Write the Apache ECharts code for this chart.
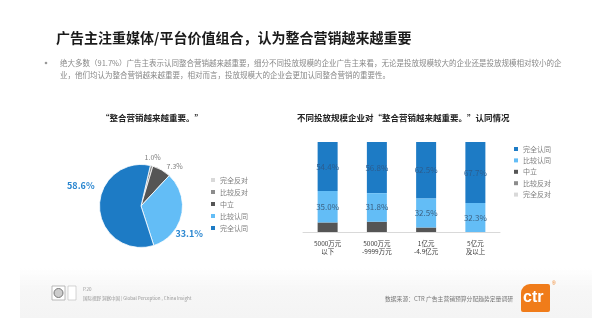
<!DOCTYPE html>
<html><head><meta charset="utf-8">
<script src="https://cdn.jsdelivr.net/npm/echarts@6/dist/echarts.min.js"></script>
<style>html,body{margin:0;padding:0;background:#fff;}#c{width:608px;height:328px;}</style>
</head><body><div id="c"></div>
<script>
const levels = ['完全反对','比较反对','中立','比较认同','完全认同'];
const levelColors = ['#d9d9d9','#8c8c8c','#555555','#63bdf6','#1d7bc5'];
const pieValues = [0, 1.0, 7.3, 33.1, 58.6];
const categories = ['5000万元\n以下','5000万元\n-9999万元','1亿元\n-4.9亿元','5亿元\n及以上'];
const barValues = {
  '完全反对': [0, 0, 0, 0],
  '比较反对': [0, 0, 0, 0],
  '中立': [10.6, 11.4, 5.0, 0],
  '比较认同': [35.0, 31.8, 32.5, 32.3],
  '完全认同': [54.4, 56.8, 62.5, 67.7]
};
const mainTitle = '广告主注重媒体/平台价值组合，认为整合营销越来越重要';
const bullet1 = '绝大多数（91.7%）广告主表示认同整合营销越来越重要，细分不同投放规模的企业广告主来看，无论是投放规模较大的企业还是投放规模相对较小的企';
const bullet2 = '业，他们均认为整合营销越来越重要，相对而言，投放规模大的企业会更加认同整合营销的重要性。';
const pieTitle = '“整合营销越来越重要。”';
const barTitle = '不同投放规模企业对“整合营销越来越重要。”认同情况';
const sourceText = '数据来源：CTR 广告主营销预算分配趋势定量调研';

const F = '"Noto Sans CJK SC", "Noto Sans", sans-serif';
const chart = echarts.init(document.getElementById('c'));

const pieLabelShift = {1: [-14, -5], 2: [-8, -7], 3: [-11, 18], 4: [5, -22]};

const barSeries = levels.map((name, i) => ({
  type: 'bar', name: name, stack: 's',
  barWidth: 20,
  itemStyle: {color: levelColors[i]},
  data: barValues[name],
  label: {
    show: name === '完全认同' || name === '比较认同',
    position: 'inside',
    formatter: p => p.value.toFixed(1) + '%',
    fontSize: 8, fontFamily: F,
    color: name === '完全认同' ? '#2c5d8f' : '#3d6283'
  }
}));

chart.setOption({
  animation: false,
  textStyle: {fontFamily: F},
  color: levelColors,
  legend: [
    {data: levels, left: 206, top: 171, orient: 'vertical', icon: 'rect', itemWidth: 4, itemHeight: 4,
     itemGap: 4, textStyle: {fontSize: 7, color: '#7f7f7f', lineHeight: 8}, selectedMode: false},
    {data: levels.slice().reverse(), left: 509, top: 140, orient: 'vertical', icon: 'rect', itemWidth: 4, itemHeight: 4,
     itemGap: 3.4, textStyle: {fontSize: 7, color: '#7f7f7f', lineHeight: 8}, selectedMode: false}
  ],
  grid: {left: 303, right: 108, top: 142, bottom: 96},
  xAxis: {type: 'category', data: categories,
    axisLine: {lineStyle: {color: '#d9d9d9'}}, axisTick: {show: false},
    axisLabel: {fontSize: 6.5, color: '#404040', lineHeight: 8, margin: 8, interval: 0}},
  yAxis: {type: 'value', min: 0, max: 100, show: false},
  series: [
    ...barSeries,
    {type: 'pie', center: [141, 206], radius: 41.5, startAngle: 77, clockwise: true,
     itemStyle: {borderColor: '#fff', borderWidth: 0.8},
     data: levels.map((n, i) => {
       const big = pieValues[i] > 20;
       return {name: n, value: pieValues[i], itemStyle: {color: levelColors[i]},
         label: big ? {fontSize: 9, fontWeight: 'bold', color: '#2a86d0'} : {}};
     }),
     label: {show: true, position: 'outside', formatter: p => p.value > 0 ? p.value.toFixed(1) + '%' : '', fontSize: 7, color: '#7f7f7f'},
     labelLine: {show: false, length: 4, length2: 1},
     labelLayout: p => {
       const s = pieLabelShift[p.dataIndex];
       return s ? {dx: s[0], dy: s[1]} : {};
     },
     emphasis: {disabled: true}
    }
  ],
  graphic: [
    {type: 'rect', shape: {x: 20, y: 268, width: 572, height: 50}, style: {fill: new echarts.graphic.LinearGradient(0,0,0,1,[{offset:0,color:'rgba(245,245,245,0)'},{offset:0.5,color:'#f6f6f6'},{offset:1,color:'#f4f4f4'}])}, z: -10},
    {type: 'text', style: {x: 56, y: 38, text: mainTitle, fill: '#1a1a1a', font: 'bold 14px ' + F, textAlign: 'left', textVerticalAlign: 'middle'}},
    {type: 'text', style: {x: 152, y: 118, text: pieTitle, fill: '#222', font: 'bold 8.5px ' + F, textAlign: 'center', textVerticalAlign: 'middle'}},
    {type: 'text', style: {x: 297, y: 118, text: barTitle, fill: '#222', font: 'bold 8.5px ' + F, textAlign: 'left', textVerticalAlign: 'middle'}},
    {type: 'circle', shape: {cx: 46, cy: 63, r: 1.3}, style: {fill: '#999'}},
    {type: 'text', style: {x: 60, y: 59, text: bullet1, fill: '#888', font: '7.5px ' + F}},
    {type: 'text', style: {x: 60, y: 71, text: bullet2, fill: '#888', font: '7.5px ' + F}},
    {type: 'rect', shape: {x: 52, y: 286, width: 13, height: 14}, style: {fill: '#fff', stroke: '#aaa', lineWidth: 0.8}},
    {type: 'circle', shape: {cx: 58.5, cy: 293, r: 4.5}, style: {fill: '#ccc', stroke: '#777', lineWidth: 1}},
    {type: 'rect', shape: {x: 68, y: 286, width: 8, height: 14}, style: {fill: '#fff', stroke: '#bbb', lineWidth: 0.6}},
    {type: 'text', style: {x: 83, y: 287, text: 'P.20', fill: '#999', font: '4.5px ' + F}},
    {type: 'text', style: {x: 83, y: 296, text: '国际视野 洞察中国 | Global Perception , China Insight', fill: '#999', font: '4.5px ' + F}},
    {type: 'text', style: {x: 385, y: 296, text: sourceText, fill: '#777', font: '5.8px ' + F}},
    {type: 'rect', shape: {x: 521, y: 284, width: 29, height: 28, r: [9, 2, 2, 2]}, style: {fill: '#f07c1a'}},
    {type: 'text', style: {x: 523, y: 290, text: 'ctr', fill: '#fff', font: 'bold 16px "Liberation Sans", Arial, sans-serif'}},
    {type: 'text', style: {x: 552, y: 281, text: '®', fill: '#f07c1a', font: '5px sans-serif'}}
  ]
});
</script></body></html>
